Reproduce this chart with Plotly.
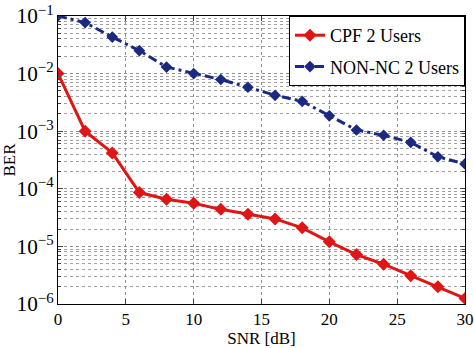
import plotly.graph_objects as go

snr = [0, 2, 4, 6, 8, 10, 12, 14, 16, 18, 20, 22, 24, 26, 28, 30]
cpf_ber = [1.0e-2, 1.0e-3, 4.2e-4, 8.6e-5, 6.6e-5, 5.6e-5, 4.4e-5, 3.6e-5,
           3.0e-5, 2.1e-5, 1.2e-5, 7.2e-6, 4.9e-6, 3.1e-6, 2.0e-6, 1.25e-6]
nonnc_ber = [1.0e-1, 7.7e-2, 4.3e-2, 2.5e-2, 1.3e-2, 1.0e-2, 7.9e-3, 5.8e-3,
             4.2e-3, 3.3e-3, 1.85e-3, 1.05e-3, 8.5e-4, 6.4e-4, 3.6e-4, 2.7e-4]
x_ticks = [0, 5, 10, 15, 20, 25, 30]

FONT = "Liberation Serif, Times New Roman, serif"
FS = 17

fig = go.Figure()
fig.add_trace(go.Scatter(
    x=snr, y=cpf_ber, name="CPF 2 Users", mode="lines+markers",
    legendgroup="a",
    line=dict(color="#e01515", width=3),
    marker=dict(symbol="diamond", size=10, color="#e01515"),
))
fig.add_trace(go.Scatter(
    x=snr, y=nonnc_ber, name="NON-NC 2 Users", mode="lines+markers",
    legendgroup="b",
    line=dict(color="#1a2a80", width=3, dash="9px,4px,3px,4px"),
    marker=dict(symbol="diamond", size=9, color="#1a2a80"),
))

fig.update_layout(
    width=474, height=348,
    margin=dict(l=58, r=9, t=16, b=44, autoexpand=False),
    paper_bgcolor="white", plot_bgcolor="white",
    font=dict(family=FONT, size=FS, color="black"),
    legend=dict(
        x=1.0, y=1.0, xanchor="right", yanchor="top",
        bgcolor="white", bordercolor="black", borderwidth=1,
        font=dict(family=FONT, size=18),
        tracegroupgap=5,
    ),
)
fig.update_xaxes(
    range=[0, 30], tickvals=x_ticks, ticks="inside", ticklen=5,
    showline=True, linecolor="black", linewidth=1, mirror="ticks",
    showgrid=True, gridcolor="#909090", griddash="dot", gridwidth=1,
    zeroline=False, automargin=False,
    title=dict(text="SNR [dB]", font=dict(family=FONT, size=FS), standoff=0),
    tickfont=dict(family=FONT, size=FS),
)
fig.update_yaxes(
    type="log", range=[-6, -1], dtick=1, exponentformat="power",
    ticks="inside", ticklen=5,
    showline=True, linecolor="black", linewidth=1, mirror="ticks",
    showgrid=True, gridcolor="#909090", griddash="dot", gridwidth=1,
    minor=dict(dtick="D1", showgrid=True, gridcolor="#a0a0a0", griddash="dot",
               gridwidth=1, ticks="inside", ticklen=3),
    zeroline=False, automargin=False,
    title=dict(text="BER", font=dict(family=FONT, size=FS), standoff=4),
    tickfont=dict(family=FONT, size=FS),
)

fig.write_html("out.html")
